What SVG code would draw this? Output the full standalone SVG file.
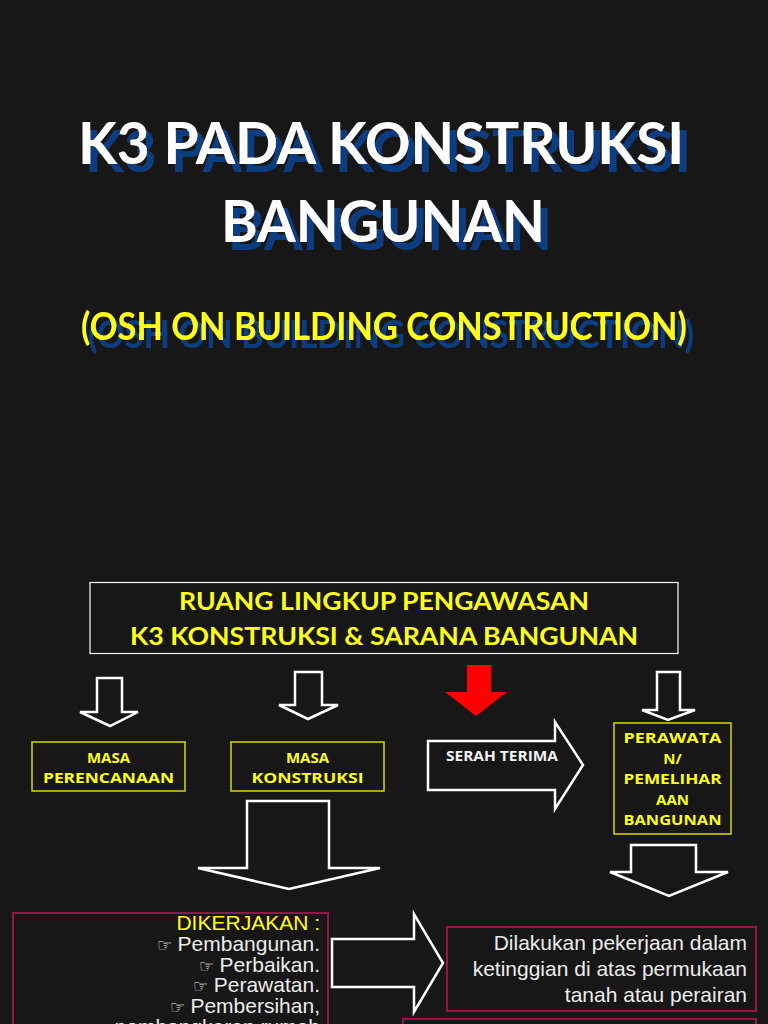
<svg xmlns="http://www.w3.org/2000/svg" width="768" height="1024" viewBox="0 0 768 1024">
<defs>
<filter id="sh" x="-10%" y="-20%" width="130%" height="160%">
<feOffset in="SourceAlpha" dx="7" dy="8" result="o"/>
<feFlood flood-color="#0f3e80"/>
<feComposite in2="o" operator="in" result="s"/>
<feMerge><feMergeNode in="s"/><feMergeNode in="SourceGraphic"/></feMerge>
</filter>
</defs>
<style>
.bg{fill:#171717}
.title{font-family:Lato,"Open Sans","Liberation Sans",sans-serif;font-weight:bold;text-anchor:middle;filter:url(#sh)}
.tw{fill:#ffffff}
.ty{fill:#ffff1a}
.hd{font-family:Lato,"Open Sans","Liberation Sans",sans-serif;font-weight:bold;fill:#ffff1a;text-anchor:middle}
.box{fill:none;stroke:#ffffff;stroke-width:1.2}
.ybox{fill:none;stroke:#d8d800;stroke-width:1.5}
.rbox{fill:none;stroke:#a3174c;stroke-width:1.8}
.arr{fill:none;stroke:#ffffff;stroke-width:2.5;stroke-linejoin:miter}
.lbl{font-family:"Open Sans","Liberation Sans",sans-serif;font-weight:bold;fill:#ffff1a;text-anchor:middle;font-size:15px}
.body{font-family:"Liberation Sans",Arial,sans-serif;fill:#ececec;font-size:21px;text-anchor:end}
.hand{font-size:17px}
</style>
<rect class="bg" x="0" y="0" width="768" height="1024"/>

<g id="title">
<text class="title tw" x="381" y="164" font-size="58" textLength="606" lengthAdjust="spacingAndGlyphs">K3 PADA KONSTRUKSI</text>
<text class="title tw" x="383" y="242" font-size="58" textLength="324" lengthAdjust="spacingAndGlyphs">BANGUNAN</text>
<text class="title ty" x="384" y="340" font-size="38" textLength="606" lengthAdjust="spacingAndGlyphs">(OSH ON BUILDING CONSTRUCTION)</text>
</g>

<g id="scope">
<rect class="box" x="90" y="582.5" width="588" height="71"/>
<text class="hd" x="384" y="610" font-size="25" textLength="410" lengthAdjust="spacingAndGlyphs">RUANG LINGKUP PENGAWASAN</text>
<text class="hd" x="384" y="645" font-size="25" textLength="508" lengthAdjust="spacingAndGlyphs">K3 KONSTRUKSI &amp; SARANA BANGUNAN</text>
</g>

<g id="connectors">
<polygon class="arr" points="97,678 122,678 122,712 138,712 110,726 80,712 97,712"/>
<polygon class="arr" points="295,672 322,672 322,705 338,705 308,719 279,705 295,705"/>
<polygon fill="#ff0000" points="467,665 491,665 491,692 507,692 476,716 445,692 467,692"/>
<polygon class="arr" points="428,741 555,741 555,722 583,765 555,809 555,790 428,790"/>
<polygon class="arr" points="657,672 680,672 680,710 695,710 668,720 642,710 657,710"/>
<polygon class="arr" points="247,801 329,801 329,868 380,868 289,889 198,868 247,868"/>
<polygon class="arr" points="631,845 696,845 696,872 728,872 669,896 610,872 631,872"/>
<polygon class="arr" points="332,939 414,939 414,914 443,963 414,1012 414,987 332,987"/>
</g>

<g id="masa-perencanaan">
<rect class="ybox" x="32" y="742" width="153" height="49"/>
<text class="lbl" x="108.5" y="763">MASA</text>
<text class="lbl" x="108.5" y="783" textLength="131" lengthAdjust="spacingAndGlyphs">PERENCANAAN</text>
</g>

<g id="masa-konstruksi">
<rect class="ybox" x="231" y="742" width="153" height="49"/>
<text class="lbl" x="307.5" y="763">MASA</text>
<text class="lbl" x="307.5" y="783" textLength="112" lengthAdjust="spacingAndGlyphs">KONSTRUKSI</text>
</g>

<g id="serah-terima">
<text x="502" y="761" font-family="'Open Sans','Liberation Sans',sans-serif" font-weight="bold" font-size="14" fill="#f2f2f2" text-anchor="middle" textLength="112" lengthAdjust="spacingAndGlyphs">SERAH TERIMA</text>
</g>

<g id="perawatan">
<rect class="ybox" x="614" y="723" width="117" height="111"/>
<text class="lbl" x="672.5" y="743"><tspan textLength="98" lengthAdjust="spacingAndGlyphs">PERAWATA</tspan><tspan x="672.5" dy="20.5">N/</tspan><tspan x="672.5" dy="20.5" textLength="98" lengthAdjust="spacingAndGlyphs">PEMELIHAR</tspan><tspan x="672.5" dy="20.5">AAN</tspan><tspan x="672.5" dy="20.5" textLength="98" lengthAdjust="spacingAndGlyphs">BANGUNAN</tspan></text>
</g>

<g id="dikerjakan">
<rect class="rbox" x="13" y="913" width="315" height="140"/>
<text class="body" x="320" y="930"><tspan style="fill:#ffff1a">DIKERJAKAN :</tspan><tspan x="320" dy="21"><tspan class="hand">☞</tspan> Pembangunan.</tspan><tspan x="320" dy="20.5"><tspan class="hand">☞</tspan> Perbaikan.</tspan><tspan x="320" dy="20.5"><tspan class="hand">☞</tspan> Perawatan.</tspan><tspan x="320" dy="20.5"><tspan class="hand">☞</tspan> Pembersihan,</tspan><tspan x="320" dy="21.5">pembongkaran rumah</tspan></text>
</g>

<g id="ketinggian">
<rect class="rbox" x="447" y="927" width="309" height="84"/>
<text class="body" x="747" y="950">Dilakukan pekerjaan dalam<tspan x="747" dy="26">ketinggian di atas permukaan</tspan><tspan x="747" dy="26">tanah atau perairan</tspan></text>
</g>

<g id="next-box">
<rect class="rbox" x="403" y="1019" width="353" height="40"/>
</g>
</svg>
